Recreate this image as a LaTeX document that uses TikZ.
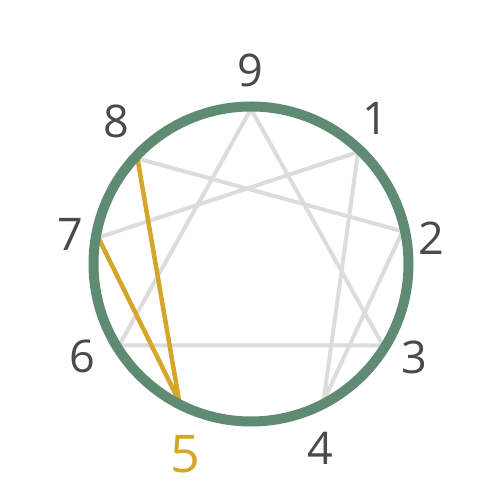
\documentclass[tikz,border=0pt]{standalone}
\usepackage{fontspec}
\setsansfont{Open Sans}
\usetikzlibrary{calc}

\definecolor{ringgreen}{HTML}{5F8B73}
\definecolor{pathgold}{HTML}{D6A62A}
\definecolor{linegray}{HTML}{DCDCDC}
\definecolor{digitgray}{HTML}{4A4A4A}

\tikzset{
    digit/.style={font=\sffamily\fontsize{45}{45}\selectfont, text=digitgray, inner sep=0pt},
    innerline/.style={linegray, line width=4pt, line join=round},
    goldline/.style={pathgold, line width=4.5pt, line join=round}
}

\begin{document}
\begin{tikzpicture}[x=1pt, y=1pt]
    \useasboundingbox (0,0) rectangle (500,500);

    % --- points on the circle ---
    \coordinate (c) at (251,236);
    \foreach \n/\a in {9/90, 1/46.3, 2/12.2, 3/-31.7, 4/-62.1, 5/-117.6, 6/-148.3, 7/170.2, 8/137.1} {
        \coordinate (p\n) at ($(c)+(\a:155)$);
    }

    % --- inner figure ---
    \draw[innerline] (p9) -- (p3) -- (p6) -- cycle;
    \draw[innerline] (p1) -- (p4) -- (p2) -- (p8);
    \draw[innerline] (p7) -- (p1);

    % highlighted path
    \draw[goldline] (p8) -- (p5) -- (p7);

    % --- circle ---
    \draw[ringgreen, line width=10pt] (c) circle (157.5);

    % --- labels ---
    \foreach \n/\x/\y in {9/250/430, 1/375/382, 2/431/262, 3/414/143, 4/320/52, 6/82/144, 7/70/266, 8/116/379} {
        \node[digit] (l\n) at (\x,\y) {\n};
    }
    \node[digit, text=pathgold, font=\sffamily\fontsize{52}{52}\selectfont] (l5) at (185,46) {5};

\end{tikzpicture}
\end{document}
